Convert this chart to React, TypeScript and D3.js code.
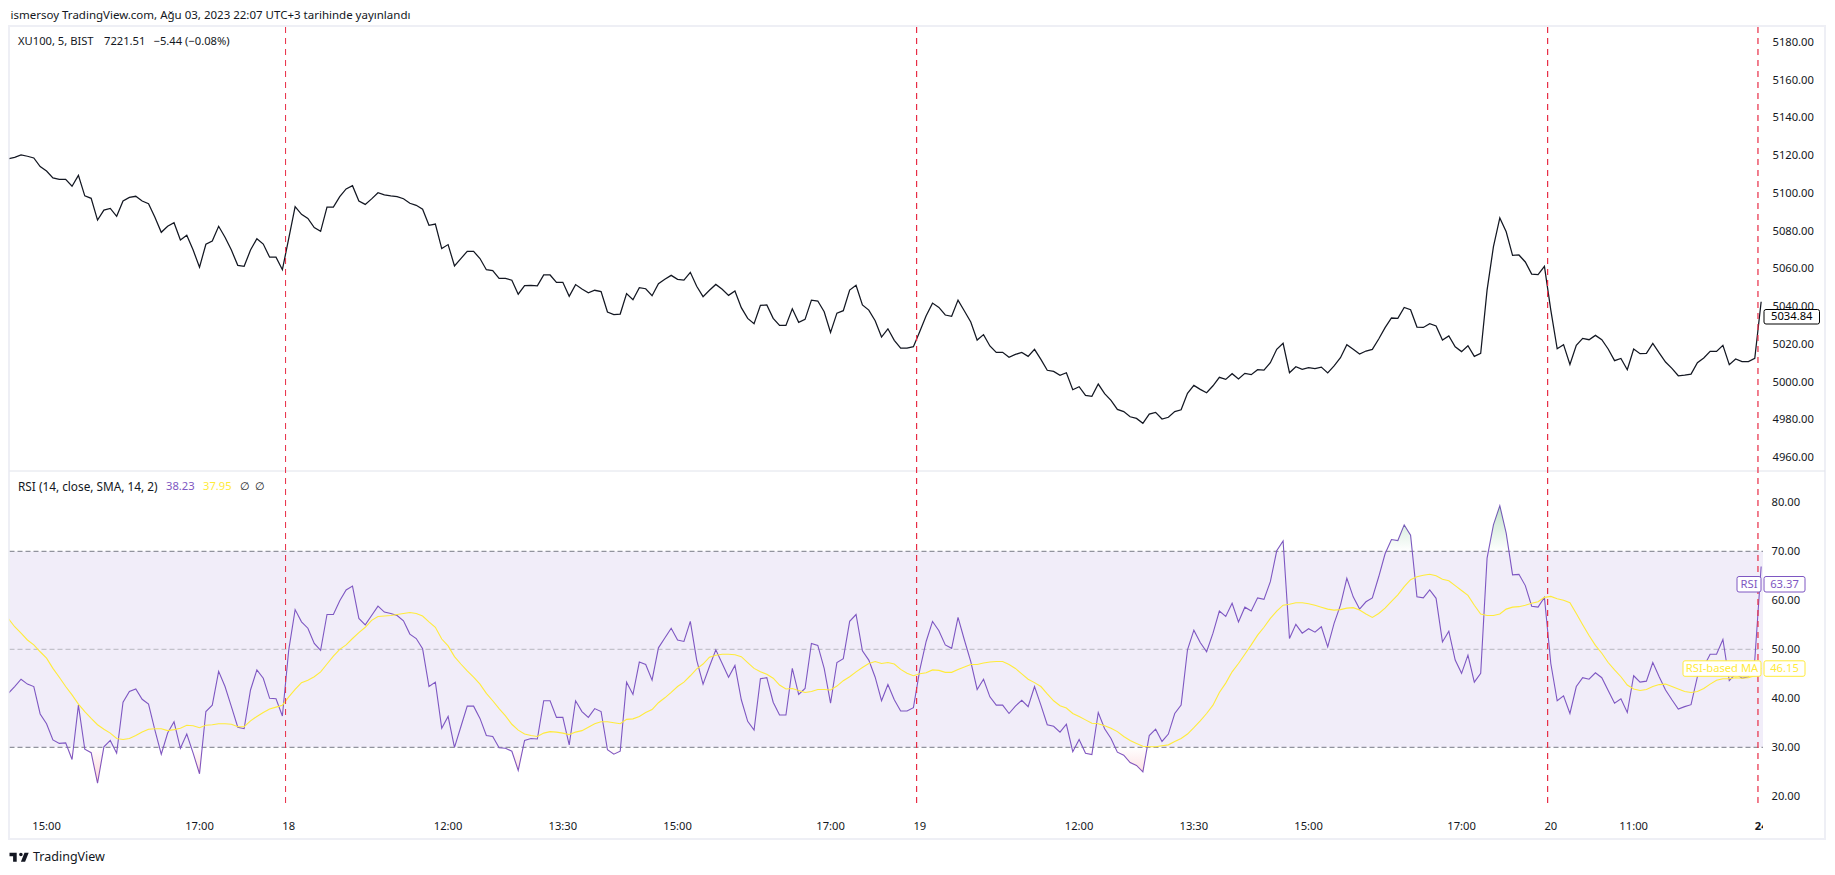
import * as d3 from 'd3';
import { useEffect, useRef } from 'react';

const WIDTH = 1835;
const HEIGHT = 875;

// XU100 close, 5 min bars
const priceValues = [
  5118.2, 5119.0, 5120.3, 5119.6, 5118.7, 5114.1, 5111.8, 5108.1, 5107.4, 5107.4, 5103.7, 5109.5, 5098.6, 5097.3, 5085.8, 5091.1,
  5092.0, 5087.8, 5095.9, 5097.8, 5098.4, 5095.9, 5094.5, 5087.3, 5079.3, 5082.5, 5084.4, 5075.2, 5077.7, 5069.9, 5060.8, 5073.0,
  5074.7, 5082.5, 5076.7, 5069.9, 5061.8, 5061.3, 5069.9, 5075.9, 5073.1, 5066.1, 5066.1, 5059.5,
  // 18
  5076.1, 5092.9, 5088.8, 5086.7, 5081.8, 5079.8, 5092.7, 5092.7, 5098.2, 5102.3, 5104.0, 5095.9, 5094.1, 5097.0, 5100.3, 5099.1,
  5098.6, 5098.2, 5097.1, 5094.7, 5093.6, 5091.5, 5083.0, 5083.7, 5070.7, 5072.8, 5061.5, 5065.4, 5069.2, 5069.2, 5065.4, 5059.5,
  5059.0, 5054.9, 5054.9, 5053.9, 5046.5, 5051.1, 5051.2, 5050.9, 5056.7, 5056.7, 5052.8, 5052.8, 5045.4, 5051.6, 5049.3, 5047.3,
  5048.6, 5047.9, 5037.1, 5035.7, 5036.0, 5046.8, 5043.6, 5050.0, 5049.4, 5045.7, 5052.1, 5054.4, 5056.5, 5054.4, 5054.0, 5058.1,
  5050.7, 5045.2, 5048.6, 5051.7, 5049.1, 5045.9, 5048.2, 5039.4, 5033.7, 5030.9, 5040.6, 5040.8, 5033.7, 5030.0, 5030.0, 5038.8,
  5031.6, 5033.2, 5043.4, 5042.9, 5037.2, 5026.3, 5036.5, 5037.8, 5048.7, 5051.2, 5040.8, 5038.1, 5032.5, 5023.8, 5028.2, 5022.1,
  5018.0, 5018.0, 5018.7,
  // 19
  5026.7, 5035.1, 5041.8, 5039.5, 5035.5, 5034.8, 5043.4, 5037.6, 5031.8, 5022.2, 5025.1, 5019.1, 5015.7, 5015.7, 5013.1, 5014.6,
  5015.7, 5013.6, 5017.3, 5012.0, 5006.2, 5005.6, 5003.5, 5004.9, 4995.9, 4997.5, 4992.9, 4992.4, 4998.9, 4993.8, 4990.3, 4985.5,
  4984.3, 4981.6, 4980.7, 4978.1, 4983.0, 4983.9, 4980.4, 4981.3, 4984.3, 4985.3, 4994.0, 4998.2, 4996.1, 4994.3, 4998.0, 5002.5,
  5001.4, 5004.4, 5001.6, 5004.6, 5003.9, 5006.5, 5006.3, 5010.2, 5017.3, 5020.5, 5004.9, 5008.1, 5006.7, 5007.6, 5007.1, 5007.9,
  5004.8, 5008.5, 5012.9, 5019.8, 5017.3, 5014.8, 5016.4, 5017.3, 5022.8, 5028.8, 5033.9, 5033.7, 5039.5, 5038.3, 5029.1, 5028.9,
  5030.9, 5029.7, 5022.2, 5024.4, 5018.7, 5016.1, 5019.2, 5013.6, 5015.2, 5048.7, 5071.7, 5086.9, 5079.6, 5067.1, 5067.3, 5063.6,
  5057.2, 5056.9, 5061.3,
  // 20
  5038.1, 5017.6, 5019.8, 5009.3, 5019.4, 5023.1, 5022.4, 5024.7, 5022.4, 5017.5, 5011.3, 5012.5, 5006.5, 5017.5, 5015.0, 5015.2,
  5020.5, 5015.4, 5010.6, 5007.2, 5003.3, 5003.7, 5004.2, 5010.2, 5012.7, 5016.2, 5016.2, 5019.4, 5009.2, 5012.2, 5010.8, 5010.8,
  5012.5,
  // 24
  5042.5,
];

const rsiValues = [
  41.0, 42.4, 43.9, 42.9, 42.4, 36.8, 34.8, 31.5, 30.8, 30.9, 27.5, 38.6, 29.6, 28.9, 22.7, 30.1, 31.4, 28.8, 39.2, 41.4, 41.9, 39.8,
  38.8, 33.5, 28.6, 32.9, 35.2, 29.8, 32.7, 28.8, 24.6, 37.3, 38.6, 45.5, 42.4, 38.3, 34.1, 33.8, 41.7, 45.8, 44.1, 40.0, 39.9, 36.4,
  // 18
  49.9, 58.1, 55.6, 54.3, 51.2, 49.8, 57.1, 57.1, 59.9, 62.1, 62.9, 56.3, 55.0, 56.9, 58.8, 57.6, 57.3, 56.9, 55.8, 53.1, 52.2, 50.1,
  42.4, 43.3, 33.9, 36.3, 30.0, 34.2, 38.4, 38.4, 35.9, 32.4, 32.2, 29.9, 29.8, 29.2, 25.3, 31.4, 31.8, 31.7, 39.5, 39.5, 36.1, 36.1,
  30.5, 39.5, 37.3, 36.1, 37.9, 37.3, 29.5, 28.6, 29.2, 43.3, 40.8, 47.4, 46.9, 43.7, 50.3, 52.3, 54.3, 51.9, 51.6, 55.7, 47.8, 42.9,
  46.5, 49.9, 47.1, 44.3, 46.7, 39.7, 35.3, 33.5, 44.0, 44.2, 39.2, 36.6, 36.6, 46.1, 40.8, 42.0, 51.2, 50.8, 46.1, 39.0, 47.3, 48.1,
  55.7, 57.1, 49.7, 47.8, 44.3, 39.5, 42.8, 39.7, 37.4, 37.4, 38.1,
  // 19
  45.8, 51.6, 55.7, 53.8, 50.9, 50.2, 56.5, 51.9, 47.5, 41.8, 43.9, 40.3, 38.6, 38.6, 36.9, 38.4, 39.6, 38.3, 42.4, 38.6, 34.6, 34.3,
  33.1, 34.7, 29.1, 31.6, 28.8, 28.5, 37.1, 33.8, 31.8, 29.0, 28.4, 26.9, 26.3, 25.0, 32.4, 33.7, 31.2, 32.7, 36.9, 38.6, 49.9, 53.9,
  51.4, 49.5, 53.3, 57.8, 56.7, 59.4, 55.6, 58.6, 57.8, 60.5, 60.2, 63.8, 70.1, 72.1, 52.2, 55.1, 53.3, 54.2, 53.5, 54.6, 50.5, 55.3,
  59.0, 64.5, 60.7, 58.2, 59.7, 60.5, 64.8, 69.5, 72.4, 72.2, 75.4, 73.3, 60.7, 60.5, 62.1, 60.4, 51.5, 53.7, 47.8, 45.1, 48.8, 43.3,
  45.1, 68.6, 75.4, 79.3, 73.7, 65.2, 65.3, 63.0, 58.8, 58.6, 60.6,
  // 20
  47.1, 39.5, 40.5, 36.9, 42.4, 44.2, 43.9, 45.2, 44.2, 41.6, 39.0, 39.9, 37.1, 44.6, 43.3, 43.5, 47.3, 44.4, 41.7, 39.7, 37.8, 38.3,
  38.7, 44.4, 46.5, 49.0, 49.0, 52.0, 43.6, 45.0, 44.1, 44.4, 47.8,
  // 24
  66.9,
];

const rsiMaValues = [
  56.3, 54.6, 53.3, 51.9, 50.9, 49.5, 48.2, 46.1, 44.3, 42.4, 40.7, 38.8, 37.3, 35.9, 34.6, 33.7, 32.9, 31.8, 31.6, 31.8, 32.4, 33.1,
  33.7, 33.8, 33.8, 33.4, 33.6, 33.9, 34.5, 34.4, 34.0, 34.5, 34.6, 34.8, 34.8, 34.7, 34.2, 34.2, 35.4, 36.3, 37.1, 37.8, 38.2, 38.6,
  // 18
  40.3, 41.8, 43.2, 43.7, 44.4, 45.4, 47.0, 48.6, 50.0, 50.9, 52.2, 53.4, 54.5, 55.9, 56.7, 56.8, 56.9, 57.1, 57.3, 57.5, 57.3, 56.8,
  55.6, 54.5, 52.1, 50.7, 48.5, 47.0, 45.6, 44.3, 42.9, 41.0, 39.5, 37.9, 36.4, 34.7, 33.5, 32.7, 32.4, 32.2, 32.9, 33.2, 33.1, 32.9,
  32.6, 33.1, 33.4, 34.1, 34.8, 35.2, 35.2, 35.0, 34.8, 35.7, 35.8, 36.3, 37.1, 37.7, 39.1, 40.1, 41.2, 42.4, 43.3, 44.6, 46.0, 47.0,
  48.4, 48.8, 49.0, 49.0, 48.9, 48.5, 47.3, 46.1, 45.4, 44.9, 44.1, 42.7, 41.9, 42.0, 41.6, 41.2, 41.4, 41.8, 41.8, 41.7, 42.5, 43.6,
  44.4, 45.4, 46.3, 47.1, 47.5, 47.1, 47.3, 47.0, 45.9, 45.1, 44.6,
  // 19
  45.0, 45.2, 45.8, 45.7, 45.3, 45.3, 45.9, 46.4, 46.9, 46.9, 47.2, 47.4, 47.5, 47.5, 46.9, 46.1, 45.0, 43.9, 43.2, 42.4, 40.9, 39.5,
  38.5, 38.0, 36.9, 36.3, 35.6, 34.9, 34.8, 34.4, 33.9, 33.2, 32.2, 31.4, 30.8, 30.2, 30.1, 30.1, 30.3, 30.5, 31.2, 31.8, 32.7, 34.0,
  35.4, 36.9, 38.6, 41.2, 43.1, 45.4, 47.1, 49.0, 50.9, 52.9, 54.5, 56.3, 57.8, 59.0, 59.2, 59.5, 59.5, 59.3, 59.0, 58.6, 58.2, 58.0,
  58.1, 58.4, 58.5, 58.0, 57.2, 56.5, 57.3, 58.4, 59.8, 61.1, 62.8, 64.2, 64.8, 65.1, 65.3, 65.0, 64.3, 64.0, 63.0, 62.0, 61.0, 59.0,
  57.2, 56.9, 56.9, 57.2, 58.2, 58.6, 58.7, 59.0, 59.4, 59.7, 60.6,
  // 20
  60.8, 60.3, 60.0, 59.5, 57.3, 55.0, 52.8, 50.8, 49.2, 47.3, 45.8, 44.4, 42.7, 41.9, 41.6, 41.8, 42.4, 42.8, 42.9, 42.4, 41.9, 41.4,
  41.2, 41.4, 42.0, 42.9, 43.7, 44.0, 44.0, 44.2, 44.1, 44.2, 44.6,
  // 24
  46.15,
];

const priceTicks = [5180, 5160, 5140, 5120, 5100, 5080, 5060, 5040, 5020, 5000, 4980, 4960];
const rsiTicks = [80, 70, 60, 50, 40, 30, 20];
const rsiBands = [70, 50, 30];
const dayStarts = [44, 143, 242, 275];
const timeTickBars = [6, 30, 44, 69, 87, 105, 129, 143, 168, 186, 204, 228, 242, 255, 275];
const timeTickLabels = ['15:00', '17:00', '18', '12:00', '13:30', '15:00', '17:00', '19', '12:00', '13:30', '15:00', '17:00', '20', '11:00', '24'];

const FONT = "'Noto Sans', sans-serif";
const FONT_SIZE = 11.2;
const TEXT = '#131722';
const PURPLE = '#7E57C2';
const YELLOW = '#FFEB3B';
const RED = '#E82C45';
const FRAME = '#EEEFF5';

export default function App() {
  const ref = useRef<SVGSVGElement>(null);

  useEffect(() => {
    if (!ref.current) return;
    const svg = d3.select(ref.current);
    svg.selectAll('*').remove();

    const left = 9.5;
    const paneRight = 1763;
    const right = 1825;
    const top = 27;
    const split = 471;
    const paneBottom = 807;
    const bottom = 839;

    const x = d3.scaleLinear().domain([0, 275]).range([8.3, 8.3 + 275 * 6.374]);
    const yPrice = d3.scaleLinear().domain([5000, 5180]).range([382, 42.25]);
    const yRsi = d3.scaleLinear().domain([50, 80]).range([649.3, 502.3]);

    const defs = svg.append('defs');
    const addClip = (id: string, xx: number, yy: number, w: number, h: number) =>
      defs.append('clipPath').attr('id', id).append('rect').attr('x', xx).attr('y', yy).attr('width', w).attr('height', h);
    addClip('pricePane', left, top, paneRight - left, split - top);
    addClip('rsiPane', left, split, paneRight - left, paneBottom - split);
    addClip('timeAxis', left, paneBottom, paneRight - left, bottom - paneBottom);
    addClip('overbought', left, yRsi(100), paneRight - left, yRsi(70) - yRsi(100));
    addClip('oversold', left, yRsi(30), paneRight - left, yRsi(0) - yRsi(30));

    const green = defs.append('linearGradient').attr('id', 'greenFill').attr('gradientUnits', 'userSpaceOnUse')
      .attr('x1', 0).attr('x2', 0).attr('y1', yRsi(80)).attr('y2', yRsi(70));
    green.append('stop').attr('offset', 0).attr('stop-color', '#2E9E4F').attr('stop-opacity', 0.32);
    green.append('stop').attr('offset', 1).attr('stop-color', '#2E9E4F').attr('stop-opacity', 0);
    const pink = defs.append('linearGradient').attr('id', 'redFill').attr('gradientUnits', 'userSpaceOnUse')
      .attr('x1', 0).attr('x2', 0).attr('y1', yRsi(30)).attr('y2', yRsi(20));
    pink.append('stop').attr('offset', 0).attr('stop-color', '#F23645').attr('stop-opacity', 0);
    pink.append('stop').attr('offset', 1).attr('stop-color', '#F23645').attr('stop-opacity', 0.3);

    svg.append('rect').attr('width', WIDTH).attr('height', HEIGHT).attr('fill', '#fff');

    // RSI band
    svg.append('rect').attr('x', left).attr('y', yRsi(70)).attr('width', paneRight - left)
      .attr('height', yRsi(30) - yRsi(70)).attr('fill', '#F1EDF9');

    // Frame
    svg.append('rect').attr('x', left - 0.5).attr('y', top - 1).attr('width', right - left + 0.5)
      .attr('height', bottom - top + 1).attr('fill', 'none').attr('stroke', FRAME).attr('stroke-width', 2);
    svg.append('line').attr('x1', left).attr('x2', right).attr('y1', split).attr('y2', split)
      .attr('stroke', '#E0E3EB').attr('stroke-width', 1);

    // Band lines
    const rsiPane = svg.append('g').attr('clip-path', 'url(#rsiPane)');
    rsiBands.forEach((b) => {
      rsiPane.append('line').attr('x1', left).attr('x2', paneRight)
        .attr('y1', yRsi(b)).attr('y2', yRsi(b))
        .attr('stroke', b === 50 ? '#B8B7C0' : '#787B86').attr('stroke-width', 1).attr('stroke-dasharray', '5 3');
    });

    // Overbought / oversold gradients
    const areaAbove = d3.area<number>().x((_, i) => x(i)).y0(yRsi(70)).y1((d) => yRsi(d));
    const areaBelow = d3.area<number>().x((_, i) => x(i)).y0(yRsi(30)).y1((d) => yRsi(d));
    svg.append('path').attr('d', areaAbove(rsiValues)).attr('fill', 'url(#greenFill)').attr('clip-path', 'url(#overbought)');
    svg.append('path').attr('d', areaBelow(rsiValues)).attr('fill', 'url(#redFill)').attr('clip-path', 'url(#oversold)');

    const rsiLine = d3.line<number>().x((_, i) => x(i)).y((d) => yRsi(d));
    rsiPane.append('path').attr('d', rsiLine(rsiValues)).attr('fill', 'none').attr('stroke', PURPLE).attr('stroke-width', 1.1);
    rsiPane.append('path').attr('d', rsiLine(rsiMaValues)).attr('fill', 'none').attr('stroke', YELLOW).attr('stroke-width', 1.1);

    // Price line
    const priceLine = d3.line<number>().x((_, i) => x(i)).y((d) => yPrice(d));
    svg.append('g').attr('clip-path', 'url(#pricePane)').append('path').attr('d', priceLine(priceValues))
      .attr('fill', 'none').attr('stroke', TEXT).attr('stroke-width', 1.25);

    // Session lines
    dayStarts.forEach((d, i) => {
      svg.append('line').attr('x1', x(d - 0.5)).attr('x2', x(d - 0.5)).attr('y1', top).attr('y2', paneBottom)
        .attr('stroke', RED).attr('stroke-width', i === 0 ? 1 : 1.2).attr('stroke-dasharray', '6 5');
    });

    const label = (t: string, xx: number, yy: number, anchor = 'start', fill = TEXT, size = FONT_SIZE) =>
      svg.append('text').attr('x', xx).attr('y', yy - 0.8).attr('text-anchor', anchor).attr('dominant-baseline', 'central')
        .attr('font-family', FONT).attr('font-size', size).attr('fill', fill).text(t);

    // Axes
    priceTicks.forEach((t) => label(t.toFixed(2), 1772.5, yPrice(t)));
    rsiTicks.forEach((t) => label(t.toFixed(2), 1771.5, yRsi(t)));
    const timeAxis = svg.append('g').attr('clip-path', 'url(#timeAxis)');
    timeTickBars.forEach((b, i) => {
      timeAxis.append('text').attr('x', x(b)).attr('y', 825).attr('text-anchor', 'middle').attr('dominant-baseline', 'central')
        .attr('font-family', FONT).attr('font-size', FONT_SIZE).attr('fill', TEXT)
        .attr('font-weight', i === timeTickBars.length - 1 ? 700 : 400)
        .text(timeTickLabels[i]);
    });

    // Last value tags
    const tag = (xx: number, w: number, yy: number, h: number, t: string, color: string, textColor: string) => {
      svg.append('rect').attr('x', xx + 0.5).attr('y', yy + 0.5).attr('width', w - 1).attr('height', h - 1)
        .attr('rx', 2).attr('fill', '#fff').attr('stroke', color).attr('stroke-width', 1);
      label(t, xx + w / 2, yy + h / 2, 'middle', textColor);
    };
    tag(1763.5, 56.5, 309, 15.5, '5034.84', '#000', '#000');
    tag(1736.5, 25, 576, 16.5, 'RSI', PURPLE, PURPLE);
    tag(1763.5, 42, 576, 16.5, '63.37', PURPLE, PURPLE);
    tag(1682.5, 79, 660.3, 16.5, 'RSI-based MA', YELLOW, YELLOW);
    tag(1763.5, 42, 660.3, 16.5, '46.15', YELLOW, YELLOW);

    // Texts
    label('ismersoy TradingView.com, Ağu 03, 2023 22:07 UTC+3 tarihinde yayınlandı', 10.5, 15, 'start', TEXT, 11.5);
    label('XU100, 5, BIST', 18, 41.7);
    label('7221.51', 104, 41.7);
    label('−5.44 (−0.08%)', 153.5, 41.7);
    label('RSI (14, close, SMA, 14, 2)', 18, 486.7, 'start', TEXT, 11.8);
    label('38.23', 166, 486.7, 'start', PURPLE);
    label('37.95', 203, 486.7, 'start', YELLOW);
    label('∅', 240, 486.7);
    label('∅', 255, 486.7);

    // Logo
    svg.append('path').attr('d', 'M14 6H2v6h6v9h6V6zm14 15h-7l6-15h7l-6 15zm-7-9a3 3 0 100-6 3 3 0 000 6z')
      .attr('transform', 'translate(8.3 849.1) scale(0.6)').attr('fill', TEXT);
    label('TradingView', 33, 857, 'start', TEXT, 12.5);
  }, []);

  return <svg ref={ref} width={WIDTH} height={HEIGHT} style={{ position: 'absolute', left: 0, top: 0 }} />;
}
